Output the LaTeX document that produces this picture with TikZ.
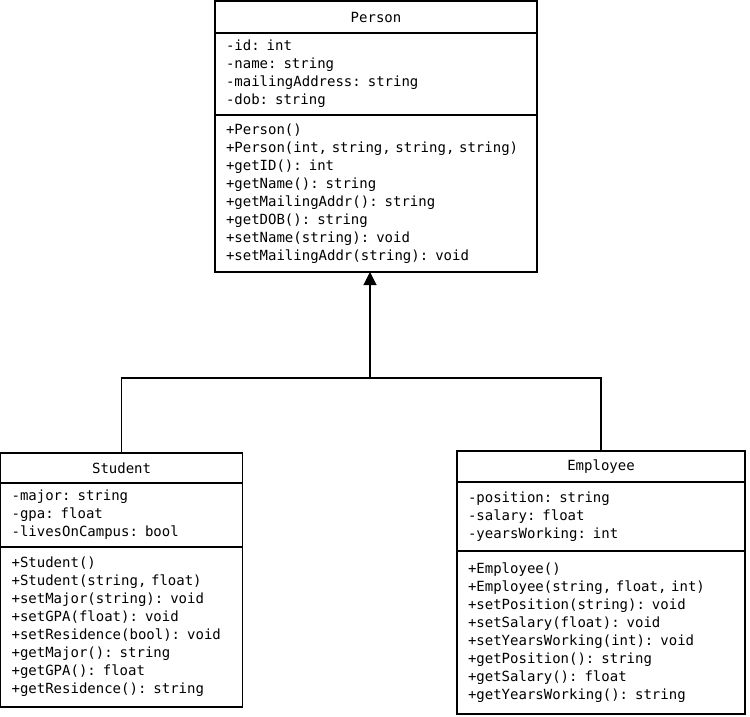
\documentclass[tikz,border=0pt]{standalone}
\usepackage{fontspec}
\newfontfamily\umlfont{DejaVu Sans Mono}
\usetikzlibrary{arrows.meta, positioning}

\begin{document}
\begin{tikzpicture}[x=1pt, y=-1pt,
  part/.style={draw, line width=1.1pt, outer sep=0pt, inner xsep=11pt, inner ysep=2pt,
    align=left, font=\umlfont\fontsize{14}{18}\selectfont},
  title/.style={part, align=center}]
\useasboundingbox (0,0) rectangle (750,716);

% Person
\node[title, text width=300pt, minimum height=32pt, anchor=north west] (p) at (215,1) {Person};
\node[part, text width=300pt, minimum height=82pt, below=0pt of p] (pa) {-id: int\\-name: string\\-mailingAddress: string\\-dob: string};
\node[part, text width=300pt, minimum height=157pt, below=0pt of pa] (pm) {+Person()\\+Person(int, string, string, string)\\+getID(): int\\+getName(): string\\+getMailingAddr(): string\\+getDOB(): string\\+setName(string): void\\+setMailingAddr(string): void};

% Student
\node[title, text width=220pt, minimum height=30pt, anchor=north west] (s) at (0.6,453) {Student};
\node[part, text width=220pt, minimum height=64pt, below=0pt of s] (sa) {-major: string\\-gpa: float\\-livesOnCampus: bool};
\node[part, text width=220pt, minimum height=160pt, below=0pt of sa] (sm) {+Student()\\+Student(string, float)\\+setMajor(string): void\\+setGPA(float): void\\+setResidence(bool): void\\+getMajor(): string\\+getGPA(): float\\+getResidence(): string};

% Employee
\node[title, text width=266pt, minimum height=31pt, anchor=north west] (e) at (457,451) {Employee};
\node[part, text width=266pt, minimum height=69pt, below=0pt of e] (ea) {-position: string\\-salary: float\\-yearsWorking: int};
\node[part, text width=266pt, minimum height=163pt, below=0pt of ea] (em) {+Employee()\\+Employee(string, float, int)\\+setPosition(string): void\\+setSalary(float): void\\+setYearsWorking(int): void\\+getPosition(): string\\+getSalary(): float\\+getYearsWorking(): string};

% inheritance
\coordinate (j) at (370,378);
\draw[line width=1.1pt] (s.north) |- (j) -| (e.north);
\draw[line width=1.1pt, -{Triangle[length=13pt,width=13pt]}] (j) -- (j |- pm.south);

\end{tikzpicture}
\end{document}
